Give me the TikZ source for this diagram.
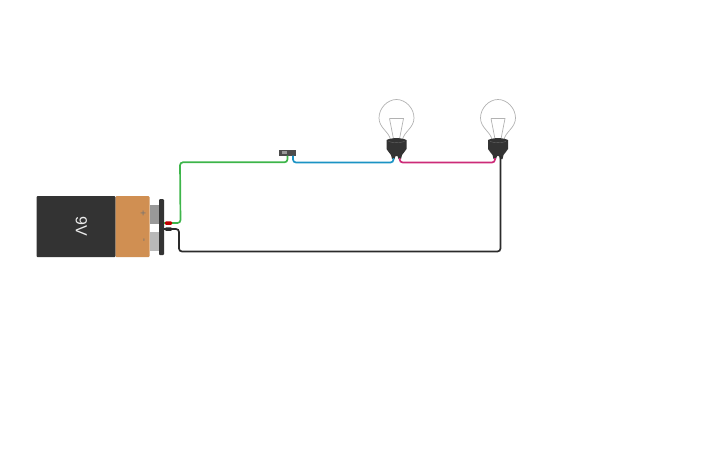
\documentclass[tikz,border=0pt]{standalone}
\usepackage{fontspec}
\setmainfont{Liberation Sans}
\usetikzlibrary{positioning}
\definecolor{cased}{HTML}{333333}
\definecolor{caseo}{HTML}{D08F52}
\definecolor{wgreen}{HTML}{3DB54A}
\definecolor{wblue}{HTML}{1B93C4}
\definecolor{wpink}{HTML}{CC2B78}
\definecolor{wblack}{HTML}{2B2B2B}
\tikzset{
	part/.style={draw=none, inner sep=0pt, outer sep=0pt, minimum width=#1},
	wire/.style={line width=1.7pt, rounded corners=3pt},
	glass/.style={draw=black!30, line width=0.7pt},
	pics/bulb/.style={code={
		\draw[glass, fill=white] (-6,22) .. controls (-7,14) and (-17.5,10) .. (-17.5,0)
			.. controls (-17.5,-10) and (-9,-18.5) .. (0,-18.5)
			.. controls (9,-18.5) and (17.5,-10) .. (17.5,0)
			.. controls (17.5,10) and (7,14) .. (6,22);
		\draw[glass] (-7,0.5) -- (7,0.5) -- (3,21);
		\draw[glass] (-7,0.5) -- (-3,21);
		\draw[fill=cased, draw=none] (-10,22) .. controls (-5,19.5) and (5,19.5) .. (10,22)
			-- (10,31) .. controls (9,34) and (6,35) .. (5.5,37)
			-- (4.5,41) -- (2,41) -- (1,38) -- (-1,38) -- (-2,41) -- (-4.5,41) -- (-5.5,37)
			.. controls (-6,35) and (-9,34) .. (-10,31) -- cycle;
		\draw[black!60, line width=0.4pt] (-8,23.5) .. controls (-4,25) and (4,25) .. (8,23.5);
		\coordinate (-pinl) at (-3,40);
		\coordinate (-pinr) at (3.2,40);
	}}
}
\begin{document}
\begin{tikzpicture}[x=1pt, y=-1pt]
	\useasboundingbox (0,0) rectangle (725,453);
	
	\node[part=79pt, minimum height=61pt, fill=cased, rounded corners=1pt, anchor=north west](body) at (36.5,196){};
	\node[part=34pt, minimum height=61pt, fill=caseo, rounded corners=1pt, right=0pt of body](cap){};
	\node[rotate=-90, text=black!8, font=\fontsize{16}{16}\selectfont] (volt) at (81.5,226.5){9V};
	\node[text=black!55, rotate=-90, font=\fontsize{10}{10}\selectfont, inner sep=0pt] (plus) at (142.8,213.5){+};
	\node[text=black!55, rotate=-90, font=\fontsize{10}{10}\selectfont, inner sep=0pt] (minus) at (142.8,240.5){-};
	
	\node[part=10pt, minimum height=19pt, fill=black!40, anchor=west](termp) at (150,214.5){};
	\node[part=10pt, minimum height=19pt, fill=black!28, anchor=west](termm) at (149.5,241){};
	\node[part=5pt, minimum height=56pt, fill=cased, rounded corners=1pt, anchor=north west](snap) at (159,199){};
	\coordinate (leadp) at (164,223);
	\coordinate (leadm) at (164,229);
	
	\node[part=17pt, minimum height=6pt, fill=black!70, anchor=north west](switch) at (279,150){};
	\node[part=5pt, minimum height=3pt, fill=black!40, anchor=west] (knob) at (281.5,152.8){};
	\coordinate (swa) at (287.5,155.5);
	\coordinate (swb) at (293,155.5);
	
	\pic (lamp1) at (396.5,118) {bulb};
	\pic (lamp2) at (498,118) {bulb};
	
	\draw[wire, wgreen] (leadp) -- (180.5,223) -- (180,162.3) -- (287.5,162.3) -- (swa);
	\draw[wire, wblue] (swb) -- (293,162.5) -- (393.5,162.5) -- (lamp1-pinl);
	\draw[wire, wpink] (lamp1-pinr) -- (399.7,162.5) -- (495,162.5) -- (lamp2-pinl);
	\draw[wire, wblack] (leadm) -- (179,229) -- (179,251.5) -- (500.5,251.5) -- (500.5,156);
	\node[part=7pt, minimum height=3.5pt, fill=red!75!black, rounded corners=1pt](tipp) at (168.5,223){};
	\node[part=7pt, minimum height=3.5pt, fill=wblack, rounded corners=1pt](tipm) at (168.5,229){};
\end{tikzpicture}
\end{document}
